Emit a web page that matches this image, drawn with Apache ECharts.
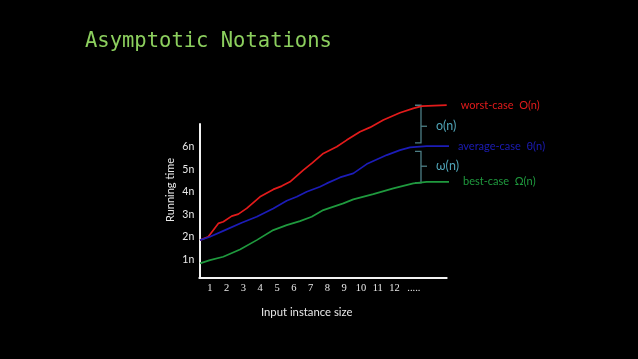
<!DOCTYPE html>
<html>
<head>
<meta charset="utf-8">
<script src="https://cdn.jsdelivr.net/npm/echarts@6/dist/echarts.min.js"></script>
<style>html,body{margin:0;padding:0;background:#000;}#c{width:638px;height:359px;}</style>
</head>
<body>
<div id="c"></div>
<script>
// Data (x = input size, y = running time in units of n)
const worstX = [0.417,0.91,1.506,1.804,2.304,2.696,3.196,3.988,4.78,5.28,5.774,6.565,7.065,7.756,8.554,9.149,9.94,10.536,11.327,12.32,13.113,13.613,15.1];
const worstY = [1.856,2.003,2.596,2.667,2.920,3.008,3.261,3.775,4.103,4.249,4.440,4.958,5.255,5.698,5.990,6.287,6.655,6.850,7.173,7.497,7.692,7.794,7.838];
const avgX = [0.417,1.012,2.006,2.899,3.792,4.78,5.577,6.173,6.768,7.56,7.958,8.75,9.542,10.34,11.53,12.32,12.917,13.91,15.4];
const avgY = [1.856,2.003,2.331,2.623,2.889,3.261,3.598,3.775,3.997,4.218,4.369,4.634,4.812,5.224,5.623,5.844,5.964,6.021,6.021];
const bestX = [0.417,1.012,1.804,2.798,3.792,4.78,5.577,6.369,7.065,7.756,8.946,9.542,10.73,11.923,13.113,13.91,15.494];
const bestY = [0.824,0.970,1.117,1.444,1.856,2.300,2.521,2.698,2.889,3.186,3.483,3.660,3.895,4.147,4.369,4.440,4.440];
const seriesNames = ['worst-case  O(n)', 'average-case  θ(n)', 'best-case  Ω(n)'];
const xTickValues = [1,2,3,4,5,6,7,8,9,10,11,12,13.15];
const xTickLabels = ['1','2','3','4','5','6','7','8','9','10','11','12','.....'];
const yTickValues = [1,2,3,4,5,6];
const yTickLabels = ['1n','2n','3n','4n','5n','6n'];
const bracketLabels = ['o(n)', 'ω(n)'];
const bracketX = [13.57, 13.57];
const bracketTop = [7.83, 5.79];
const bracketBottom = [6.16, 4.39];
const bracketMid = [6.90, 5.13];

const pair = (xs, ys) => xs.map((x, i) => [x, ys[i]]);
const colors = ['#e31b1b', '#1c1cb8', '#1f9a3e'];
const bracketColor = '#4d7f86';
const bracketTextColor = '#4fa3b6';

const chart = echarts.init(document.getElementById('c'));
const lineSeries = [[worstX, worstY], [avgX, avgY], [bestX, bestY]].map((d, i) => ({
  type: 'line', name: seriesNames[i], data: pair(d[0], d[1]), showSymbol: false,
  clip: false, smooth: false, lineStyle: {color: colors[i], width: 1.7},
  endLabel: {show: true, formatter: seriesNames[i], color: colors[i],
    fontFamily: 'Lato', fontSize: 11, distance: i === 2 ? 14 : (i === 1 ? 9 : 14)},
  emphasis: {disabled: true}
}));

chart.setOption({
  backgroundColor: '#000',
  animation: false,
  grid: {left: 199.3, right: 191.3, top: 124, bottom: 81.5},
  xAxis: {
    type: 'value', min: 0.375, max: 15.1,
    axisLine: {show: true, lineStyle: {color: '#f2f2f2', width: 2}},
    axisTick: {show: false}, splitLine: {show: false},
    axisLabel: {customValues: xTickValues, color: '#e8e8e8', fontFamily: 'Liberation Serif', fontSize: 10.5, margin: 5,
      formatter: v => xTickLabels[xTickValues.indexOf(v)] ?? ''}
  },
  yAxis: {
    type: 'value', min: 0.2, max: 7,
    axisLine: {show: true, lineStyle: {color: '#f2f2f2', width: 2}},
    axisTick: {show: false}, splitLine: {show: false},
    axisLabel: {customValues: yTickValues, color: '#e8e8e8', fontFamily: 'Lato', fontSize: 10.5, margin: 5,
      formatter: v => yTickLabels[yTickValues.indexOf(v)] ?? ''}
  },
  graphic: [
    {type: 'text', left: 85, top: 31, style: {text: 'Asymptotic Notations', fill: '#8ccf5e', font: '20.5px "DejaVu Sans Mono"'}},
    {type: 'text', x: 306.7, y: 312, style: {text: 'Input instance size', fill: '#e8e8e8', font: '11.3px Lato', align: 'center', verticalAlign: 'middle'}},
    {type: 'text', x: 170, y: 190, rotation: Math.PI / 2, style: {text: 'Running time', fill: '#e8e8e8', font: '11px Lato', align: 'center', verticalAlign: 'middle'}}
  ],
  series: lineSeries.concat([{
    type: 'custom', clip: false, silent: true,
    data: bracketLabels.map((l, i) => [bracketX[i], bracketTop[i], bracketBottom[i], bracketMid[i]]),
    encode: {x: 0, y: [1, 2]},
    renderItem: (params, api) => {
      const i = params.dataIndex;
      const t = api.coord([api.value(0), api.value(1)]);
      const b = api.coord([api.value(0), api.value(2)]);
      const m = api.coord([api.value(0), api.value(3)]);
      const x = t[0];
      return {type: 'group', children: [
        {type: 'polyline', shape: {points: [[x - 6, t[1]], [x, t[1]], [x, b[1]], [x - 6, b[1]]]},
          style: {stroke: bracketColor, lineWidth: 1.3, fill: null}},
        {type: 'line', shape: {x1: x, y1: m[1], x2: x + 6, y2: m[1]}, style: {stroke: bracketColor, lineWidth: 1.3}},
        {type: 'text', style: {text: bracketLabels[i], x: x + 15, y: m[1], fill: bracketTextColor,
          font: '12.5px Lato', align: 'left', verticalAlign: 'middle'}}
      ]};
    }
  }])
});
</script>
</body>
</html>
